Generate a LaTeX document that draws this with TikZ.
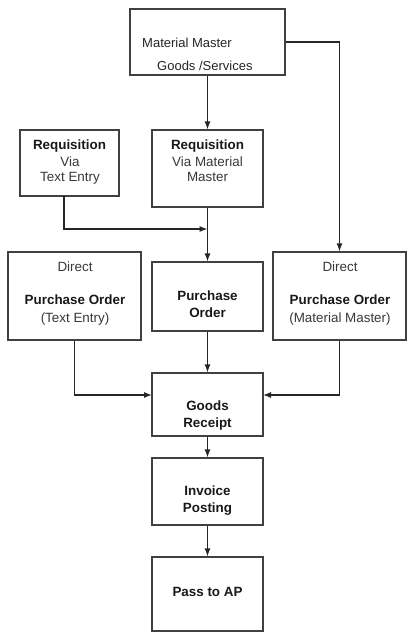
\documentclass[tikz,border=0pt]{standalone}
\usepackage{fontspec}
\setmainfont{Liberation Sans}
\usetikzlibrary{arrows.meta}
\begin{document}
\begin{tikzpicture}[x=1pt,y=-1pt,
 box/.style={draw=black!75,line width=1.2pt,inner sep=0pt,fill=white},
 txt/.style={anchor=base,inner sep=0pt,font=\fontsize{13.4}{15}\selectfont,text=black!78},
 bt/.style={anchor=base,inner sep=0pt,font=\fontsize{13.4}{15}\selectfont\bfseries,text=black!90},
 mmt/.style={anchor=base west,inner sep=0pt,font=\fontsize{13}{15}\selectfont,text=black!85},
 arr/.style={draw=black!85,line width=1.2pt,-{Latex[length=8pt,width=6pt]}},
]
\useasboundingbox[fill=white] (0,0) rectangle (415,640);

% boxes
\node[box,minimum width=155pt,minimum height=66pt] (mm) at (207.5,42) {};
\node[box,minimum width=99pt,minimum height=66pt] (rqt) at (69.5,163) {};
\node[box,minimum width=111pt,minimum height=77pt] (rqm) at (207.5,168.5) {};
\node[box,minimum width=133pt,minimum height=88pt] (dl) at (74.5,296) {};
\node[box,minimum width=111pt,minimum height=69pt] (po) at (207.5,296.5) {};
\node[box,minimum width=133pt,minimum height=88pt] (dr) at (339.5,296) {};
\node[box,minimum width=111pt,minimum height=63pt] (gr) at (207.5,404.5) {};
\node[box,minimum width=111pt,minimum height=67pt] (inv) at (207.5,491.5) {};
\node[box,minimum width=111pt,minimum height=74pt] (ap) at (207.5,594) {};

% texts
\node[mmt] (mm1) at (142,47) {Material Master};
\node[mmt] (mm2) at (157,70) {Goods /Services};

\node[bt] (rqt1) at (69.5,149) {Requisition};
\node[txt] (rqt2) at (70,166) {Via};
\node[txt] (rqt3) at (70,181) {Text Entry};

\node[bt] (rqm1) at (207.5,149) {Requisition};
\node[txt] (rqm2) at (207.5,166) {Via Material};
\node[txt] (rqm3) at (207.5,181) {Master};

\node[txt] (dl1) at (75,271) {Direct};
\node[bt] (dl2) at (75,304) {Purchase Order};
\node[txt] (dl3) at (75,322) {(Text Entry)};

\node[bt] (po1) at (207.5,300) {Purchase};
\node[bt] (po2) at (207.5,317) {Order};

\node[txt] (dr1) at (340,271) {Direct};
\node[bt] (dr2) at (340,304) {Purchase Order};
\node[txt] (dr3) at (340,322) {(Material Master)};

\node[bt] (gr1) at (207.5,410) {Goods};
\node[bt] (gr2) at (207.5,427) {Receipt};

\node[bt] (inv1) at (207.5,495) {Invoice};
\node[bt] (inv2) at (207.5,512) {Posting};

\node[bt] (ap1) at (207.5,596) {Pass to AP};

% connectors
\coordinate (rqts) at (64,196);
\coordinate (j) at (207.5,229);
\coordinate (gl) at (152,395);
\coordinate (grr) at (263,395);

\draw[arr] (mm) -- (rqm);
\draw[arr] (rqts) |- (j);
\draw[arr] (rqm) -- (po);
\draw[arr] (mm.east) -| (dr.north);
\draw[arr] (dl.south) |- (gl);
\draw[arr] (dr.south) |- (grr);
\draw[arr] (po) -- (gr);
\draw[arr] (gr) -- (inv);
\draw[arr] (inv) -- (ap);
\end{tikzpicture}
\end{document}
